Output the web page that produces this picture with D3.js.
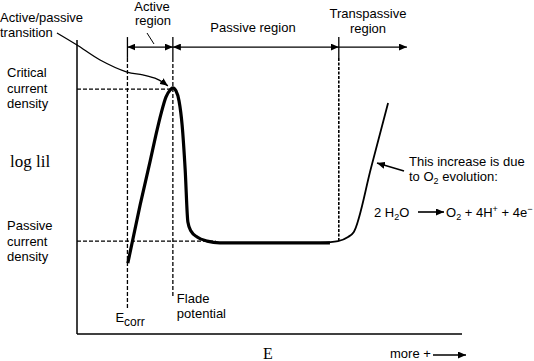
<!DOCTYPE html>
<html>
<script src="https://d3js.org/d3.v7.min.js"></script>

<head>
    <style>
        body {
            margin: 0;
            background-color: #fff;
            font-family: "Liberation Sans", Arial, Helvetica, sans-serif;
        }

        svg {
            display: block;
        }
    </style>
</head>

<body>
</body>
<script>
    const width = 534,
        height = 361;

    // polarisation curve, E and log|i| in arbitrary units (0-100)
    const curveE = [13.2, 16.4, 19.0, 20.5, 21.8, 23.1, 24.2, 24.9, 25.7, 26.5, 27.3, 28.1, 28.8, 29.6, 31.2, 33.8, 37.1, 65.7];
    const curveLogI = [24.1, 43.9, 58.8, 67.7, 74.8, 80.6, 83.0, 83.7, 82.7, 79.3, 71.1, 55.8, 38.1, 35.0, 33.0, 31.6, 31.0, 31.0];
    const transE = [63.1, 67.8, 70.4, 71.9, 76.4, 80.8];
    const transLogI = [31.0, 31.6, 33.0, 34.7, 56.6, 78.6];

    // characteristic potentials and currents
    const eCorr = 13.1,
        eFlade = 24.9,
        eTrans = 68.0,
        iCritical = 83.3,
        iPassive = 31.6;

    const svg = d3.select("body").append("svg").attr("width", width).attr("height", height);

    const x = d3.scaleLinear().domain([0, 100]).range([77, 462]);
    const y = d3.scaleLinear().domain([0, 100]).range([334, 40]);

    const defs = svg.append("defs");
    defs.append("marker")
        .attr("id", "head")
        .attr("markerUnits", "userSpaceOnUse")
        .attr("markerWidth", 9)
        .attr("markerHeight", 7)
        .attr("refX", 8)
        .attr("refY", 3.5)
        .attr("orient", "auto-start-reverse")
        .append("path")
        .attr("d", "M0,0 L8,3.5 L0,7 Z")
        .attr("fill", "black");

    const sans = "'Liberation Sans', Arial, Helvetica, sans-serif";
    const serif = "'Liberation Serif', 'Times New Roman', serif";

    function label(px, py, str, anchor) {
        return svg.append("text")
            .attr("x", px)
            .attr("y", py)
            .attr("font-family", sans)
            .attr("font-size", 13)
            .attr("text-anchor", anchor || "start")
            .text(str);
    }

    function segment(x1, y1, x2, y2, w) {
        return svg.append("line")
            .attr("x1", x1).attr("y1", y1)
            .attr("x2", x2).attr("y2", y2)
            .attr("stroke", "black")
            .attr("stroke-width", w || 1.3);
    }

    // axes (no ticks)
    segment(x(0), y(100), x(0), y(0), 1.5);
    segment(x(0), y(0), x(100), y(0), 1.5);

    // dashed guide lines
    const dash = "4,2";
    segment(x(0), y(iCritical), x(eFlade), y(iCritical)).attr("stroke-dasharray", dash);
    segment(x(0), y(iPassive), x(36), y(iPassive)).attr("stroke-dasharray", dash);
    segment(x(eCorr), y(93.9), x(eCorr), y(8.2)).attr("stroke-dasharray", dash);
    segment(x(eFlade), y(93.9), x(eFlade), y(12.6)).attr("stroke-dasharray", dash);
    segment(x(eTrans), y(93.9), x(eTrans), y(iPassive), 1.6).attr("stroke-dasharray", "3,1.5");

    // region ticks and arrows at the top
    [eCorr, eFlade, eTrans].forEach(e => segment(x(e), y(101), x(e), y(93.9)));
    const arrowY = y(97.6);
    segment(x(eCorr), arrowY, x(eFlade), arrowY)
        .attr("marker-start", "url(#head)").attr("marker-end", "url(#head)");
    segment(x(eFlade), arrowY, x(eTrans), arrowY)
        .attr("marker-start", "url(#head)").attr("marker-end", "url(#head)");
    segment(x(eTrans), arrowY, x(85.7), arrowY)
        .attr("marker-end", "url(#head)");
    segment(147, 33, 154, 44, 1);

    // curves
    const line = d3.line()
        .x(d => x(d[0]))
        .y(d => y(d[1]))
        .curve(d3.curveMonotoneX);

    svg.append("path")
        .attr("d", line(curveE.map((e, i) => [e, curveLogI[i]])))
        .attr("fill", "none")
        .attr("stroke", "black")
        .attr("stroke-width", 3.2)
        .attr("stroke-linejoin", "round");

    svg.append("path")
        .attr("d", line(transE.map((e, i) => [e, transLogI[i]])))
        .attr("fill", "none")
        .attr("stroke", "black")
        .attr("stroke-width", 1.8);

    // active/passive transition leader
    const leaderPts = [[-5.2, 102.4], [0, 98.3], [6, 93.2], [13, 89.1], [17.1, 88.1], [20.8, 86.7], [23.6, 84.4]];
    svg.append("path")
        .attr("d", d3.line().x(d => x(d[0])).y(d => y(d[1])).curve(d3.curveCatmullRom)(leaderPts))
        .attr("fill", "none")
        .attr("stroke", "black")
        .attr("stroke-width", 1.3)
        .attr("marker-end", "url(#head)");

    // O2 evolution arrow
    segment(404, 171, 377, 163, 1.6).attr("marker-end", "url(#head)");
    segment(418, 212, 444, 212, 1.6).attr("marker-end", "url(#head)");

    // labels
    label(0, 22, "Active/passive");
    label(0, 37, "transition");
    label(152, 11, "Active", "middle");
    label(153, 25, "region", "middle");
    label(253, 32, "Passive region", "middle");
    label(368, 18, "Transpassive", "middle");
    label(368, 33, "region", "middle");

    label(7, 77, "Critical");
    label(7, 93, "current");
    label(7, 108, "density");
    label(7, 230, "Passive");
    label(7, 246, "current");
    label(7, 261, "density");

    svg.append("text")
        .attr("x", 10).attr("y", 167)
        .attr("font-family", serif).attr("font-size", 17)
        .text("log lil");

    svg.append("text")
        .attr("x", 263).attr("y", 359)
        .attr("font-family", serif).attr("font-size", 16)
        .text("E");

    const ec = label(x(eCorr) - 12, 322, "E");
    ec.append("tspan").attr("font-size", 12).attr("dy", 4).text("corr");

    label(x(eFlade) + 4, 303, "Flade");
    label(x(eFlade) + 4, 318, "potential");

    label(390, 358, "more +");
    segment(433, 355, 466, 355, 1.6).attr("marker-end", "url(#head)");

    label(409, 166, "This increase is due");
    const t2 = label(409, 181, "to O");
    t2.append("tspan").attr("font-size", 9).attr("dy", 3).text("2");
    t2.append("tspan").attr("dy", -3).text(" evolution:");

    const eq1 = label(374, 217, "2 H");
    eq1.append("tspan").attr("font-size", 9).attr("dy", 3).text("2");
    eq1.append("tspan").attr("dy", -3).text("O");

    const eq2 = label(446, 217, "O");
    eq2.append("tspan").attr("font-size", 9).attr("dy", 3).text("2");
    eq2.append("tspan").attr("dy", -3).text(" + 4H");
    eq2.append("tspan").attr("font-size", 9).attr("dy", -5).text("+");
    eq2.append("tspan").attr("dy", 5).text(" + 4e");
    eq2.append("tspan").attr("font-size", 9).attr("dy", -5).text("\u2212");
</script>

</html>
